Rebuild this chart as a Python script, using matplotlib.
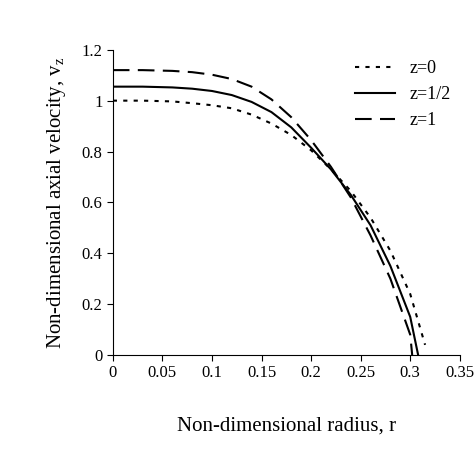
import matplotlib
matplotlib.use("Agg")
import matplotlib.pyplot as plt

r_common = [0, 0.03, 0.06, 0.08, 0.1, 0.12, 0.14, 0.16, 0.18, 0.2, 0.22, 0.24, 0.26, 0.28, 0.3]

r_z0 = r_common + [0.315]
v_z0 = [1.0, 1.0, 0.997, 0.99, 0.982, 0.97, 0.945, 0.91, 0.865, 0.805, 0.73, 0.645, 0.54, 0.41, 0.24, 0.04]

r_z05 = r_common + [0.308]
v_z05 = [1.055, 1.055, 1.052, 1.047, 1.038, 1.022, 0.995, 0.955, 0.895, 0.815, 0.73, 0.63, 0.51, 0.35, 0.15, 0.0]

r_z1 = r_common + [0.302]
v_z1 = [1.12, 1.12, 1.117, 1.112, 1.102, 1.085, 1.055, 1.005, 0.935, 0.845, 0.74, 0.62, 0.47, 0.3, 0.08, 0.0]

plt.rcParams["font.family"] = ["Liberation Serif", "DejaVu Serif"]
fig = plt.figure(figsize=(4.74, 4.74), dpi=100)
ax = fig.add_axes([0.238, 0.251, 0.732, 0.644])

ax.plot(r_z0, v_z0, color="black", linestyle=(0, (2, 3)), linewidth=1.5, label="z=0")
ax.plot(r_z05, v_z05, color="black", linestyle="-", linewidth=1.5, label="z=1/2")
ax.plot(r_z1, v_z1, color="black", linestyle=(0, (8, 4)), linewidth=1.5, label="z=1")

ax.set_xlim(0, 0.35)
ax.set_ylim(0, 1.2)
ax.set_xticks([0, 0.05, 0.1, 0.15, 0.2, 0.25, 0.3, 0.35])
ax.set_xticklabels(["0", "0.05", "0.1", "0.15", "0.2", "0.25", "0.3", "0.35"])
ax.set_yticks([0, 0.2, 0.4, 0.6, 0.8, 1.0, 1.2])
ax.set_yticklabels(["0", "0.2", "0.4", "0.6", "0.8", "1", "1.2"])
ax.tick_params(labelsize=12, direction="out", length=4)
ax.spines["top"].set_visible(False)
ax.spines["right"].set_visible(False)

ax.set_xlabel("Non-dimensional radius, r", fontsize=15, labelpad=25)
ax.set_ylabel("Non-dimensional axial velocity, v$_\\mathregular{z}$", fontsize=15, labelpad=10)
ax.legend(loc="upper right", frameon=False, fontsize=13, handlelength=2.2,
          bbox_to_anchor=(1.02, 1.02))

fig.savefig("out.png", dpi=100)
